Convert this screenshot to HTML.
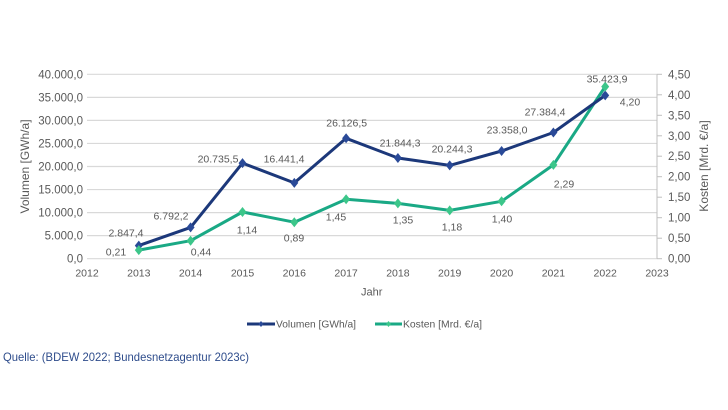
<!DOCTYPE html>
<html>
<head>
<meta charset="utf-8">
<style>
html,body{margin:0;padding:0;background:#fff;}
svg{display:block;}
text{font-family:"Liberation Sans",Arial,sans-serif;}
</style>
</head>
<body>
<svg width="728" height="410" viewBox="0 0 728 410" xmlns="http://www.w3.org/2000/svg">
<rect width="728" height="410" fill="#fff"/>
<!-- gridlines -->
<g stroke="#d9d9d9" stroke-width="1.2">
<line x1="87" y1="74.3" x2="657" y2="74.3"/>
<line x1="87" y1="97.35" x2="657" y2="97.35"/>
<line x1="87" y1="120.4" x2="657" y2="120.4"/>
<line x1="87" y1="143.45" x2="657" y2="143.45"/>
<line x1="87" y1="166.5" x2="657" y2="166.5"/>
<line x1="87" y1="189.55" x2="657" y2="189.55"/>
<line x1="87" y1="212.6" x2="657" y2="212.6"/>
<line x1="87" y1="235.65" x2="657" y2="235.65"/>
<line x1="87" y1="258.7" x2="657" y2="258.7"/>
</g>
<!-- right axis -->
<g stroke="#bfbfbf" stroke-width="1">
<line x1="657" y1="74.3" x2="657" y2="258.7"/>
<line x1="657" y1="74.3" x2="662" y2="74.3"/>
<line x1="657" y1="94.8" x2="662" y2="94.8"/>
<line x1="657" y1="115.3" x2="662" y2="115.3"/>
<line x1="657" y1="135.8" x2="662" y2="135.8"/>
<line x1="657" y1="156.2" x2="662" y2="156.2"/>
<line x1="657" y1="176.7" x2="662" y2="176.7"/>
<line x1="657" y1="197.2" x2="662" y2="197.2"/>
<line x1="657" y1="217.7" x2="662" y2="217.7"/>
<line x1="657" y1="238.2" x2="662" y2="238.2"/>
<line x1="657" y1="258.7" x2="662" y2="258.7"/>
</g>
<!-- left tick labels -->
<g fill="#595959" font-size="11.5" text-anchor="end">
<text x="83" y="78.3">40.000,0</text>
<text x="83" y="101.35">35.000,0</text>
<text x="83" y="124.4">30.000,0</text>
<text x="83" y="147.45">25.000,0</text>
<text x="83" y="170.5">20.000,0</text>
<text x="83" y="193.55">15.000,0</text>
<text x="83" y="216.6">10.000,0</text>
<text x="83" y="239.65">5.000,0</text>
<text x="83" y="262.7">0,0</text>
</g>
<!-- right tick labels -->
<g fill="#595959" font-size="11.5" text-anchor="start">
<text x="668" y="78.3">4,50</text>
<text x="668" y="98.8">4,00</text>
<text x="668" y="119.3">3,50</text>
<text x="668" y="139.8">3,00</text>
<text x="668" y="160.2">2,50</text>
<text x="668" y="180.7">2,00</text>
<text x="668" y="201.2">1,50</text>
<text x="668" y="221.7">1,00</text>
<text x="668" y="242.2">0,50</text>
<text x="668" y="262.7">0,00</text>
</g>
<!-- x tick labels -->
<g fill="#595959" font-size="10.5" text-anchor="middle">
<text x="87" y="276.5">2012</text>
<text x="138.8" y="276.5">2013</text>
<text x="190.6" y="276.5">2014</text>
<text x="242.5" y="276.5">2015</text>
<text x="294.3" y="276.5">2016</text>
<text x="346.1" y="276.5">2017</text>
<text x="397.9" y="276.5">2018</text>
<text x="449.7" y="276.5">2019</text>
<text x="501.6" y="276.5">2020</text>
<text x="553.4" y="276.5">2021</text>
<text x="605.2" y="276.5">2022</text>
<text x="657" y="276.5">2023</text>
</g>
<text x="371.7" y="295.5" fill="#595959" font-size="11" text-anchor="middle">Jahr</text>
<text transform="translate(29,166.5) rotate(-90)" fill="#595959" font-size="12" text-anchor="middle">Volumen [GWh/a]</text>
<text transform="translate(708,166) rotate(-90)" fill="#595959" font-size="12" text-anchor="middle">Kosten [Mrd. €/a]</text>

<!-- Kosten series -->
<polyline fill="none" stroke="#1aa985" stroke-width="3" stroke-linejoin="round" points="138.8,250.1 190.6,240.7 242.5,212.0 294.3,222.2 346.1,199.3 397.9,203.4 449.7,210.4 501.6,201.3 553.4,164.9 605.2,86.6"/>
<!-- Volumen series -->
<polyline fill="none" stroke="#1c387a" stroke-width="3" stroke-linejoin="round" points="138.8,245.6 190.6,227.4 242.5,163.1 294.3,182.9 346.1,138.3 397.9,158.0 449.7,165.4 501.6,151.0 553.4,132.5 605.2,95.4"/>
<!-- Volumen markers -->
<g fill="#2a4a98">
<path d="M138.8,240.6 l4,5 l-4,5 l-4,-5z"/>
<path d="M190.6,222.4 l4,5 l-4,5 l-4,-5z"/>
<path d="M242.5,158.1 l4,5 l-4,5 l-4,-5z"/>
<path d="M294.3,177.9 l4,5 l-4,5 l-4,-5z"/>
<path d="M346.1,133.3 l4,5 l-4,5 l-4,-5z"/>
<path d="M397.9,153.0 l4,5 l-4,5 l-4,-5z"/>
<path d="M449.7,160.4 l4,5 l-4,5 l-4,-5z"/>
<path d="M501.6,146.0 l4,5 l-4,5 l-4,-5z"/>
<path d="M553.4,127.5 l4,5 l-4,5 l-4,-5z"/>
<path d="M605.2,90.4 l4,5 l-4,5 l-4,-5z"/>
</g>
<!-- Kosten markers -->
<g fill="#3cc68a">
<path d="M138.8,245.1 l4,5 l-4,5 l-4,-5z"/>
<path d="M190.6,235.7 l4,5 l-4,5 l-4,-5z"/>
<path d="M242.5,207.0 l4,5 l-4,5 l-4,-5z"/>
<path d="M294.3,217.2 l4,5 l-4,5 l-4,-5z"/>
<path d="M346.1,194.3 l4,5 l-4,5 l-4,-5z"/>
<path d="M397.9,198.4 l4,5 l-4,5 l-4,-5z"/>
<path d="M449.7,205.4 l4,5 l-4,5 l-4,-5z"/>
<path d="M501.6,196.3 l4,5 l-4,5 l-4,-5z"/>
<path d="M553.4,159.9 l4,5 l-4,5 l-4,-5z"/>
<path d="M605.2,81.6 l4,5 l-4,5 l-4,-5z"/>
</g>

<!-- Volumen data labels -->
<g fill="#595959" font-size="10.5" text-anchor="middle">
<text x="126" y="236.7">2.847,4</text>
<text x="171" y="219.7">6.792,2</text>
<text x="218" y="162.7">20.735,5</text>
<text x="284" y="162.7">16.441,4</text>
<text x="346.7" y="126.7">26.126,5</text>
<text x="400" y="146.7">21.844,3</text>
<text x="452" y="152.7">20.244,3</text>
<text x="507" y="133.7">23.358,0</text>
<text x="545" y="115.7">27.384,4</text>
<text x="607" y="82.7">35.423,9</text>
</g>
<!-- Kosten data labels -->
<g fill="#595959" font-size="10.5" text-anchor="middle">
<text x="116" y="255.7">0,21</text>
<text x="201" y="255.7">0,44</text>
<text x="247" y="233.7">1,14</text>
<text x="294" y="241.7">0,89</text>
<text x="336" y="220.7">1,45</text>
<text x="403" y="223.7">1,35</text>
<text x="452" y="230.7">1,18</text>
<text x="502" y="222.7">1,40</text>
<text x="564" y="187.7">2,29</text>
<text x="630" y="105.7">4,20</text>
</g>

<!-- Legend -->
<line x1="247" y1="324" x2="275" y2="324" stroke="#1c387a" stroke-width="3"/>
<path d="M261,321 l2.5,3 l-2.5,3 l-2.5,-3z" fill="#2a4a98"/>
<text x="276" y="327.7" fill="#595959" font-size="10.5" textLength="80" lengthAdjust="spacingAndGlyphs">Volumen [GWh/a]</text>
<line x1="375" y1="324" x2="402" y2="324" stroke="#1aa985" stroke-width="3"/>
<path d="M388.5,321 l2.5,3 l-2.5,3 l-2.5,-3z" fill="#3cc68a"/>
<text x="403" y="327.7" fill="#595959" font-size="10.5" textLength="79" lengthAdjust="spacingAndGlyphs">Kosten [Mrd. €/a]</text>

<!-- Source -->
<text x="3" y="361" fill="#2f4d8c" font-size="12" textLength="246" lengthAdjust="spacingAndGlyphs">Quelle: (BDEW 2022; Bundesnetzagentur 2023c)</text>
</svg>
</body>
</html>
